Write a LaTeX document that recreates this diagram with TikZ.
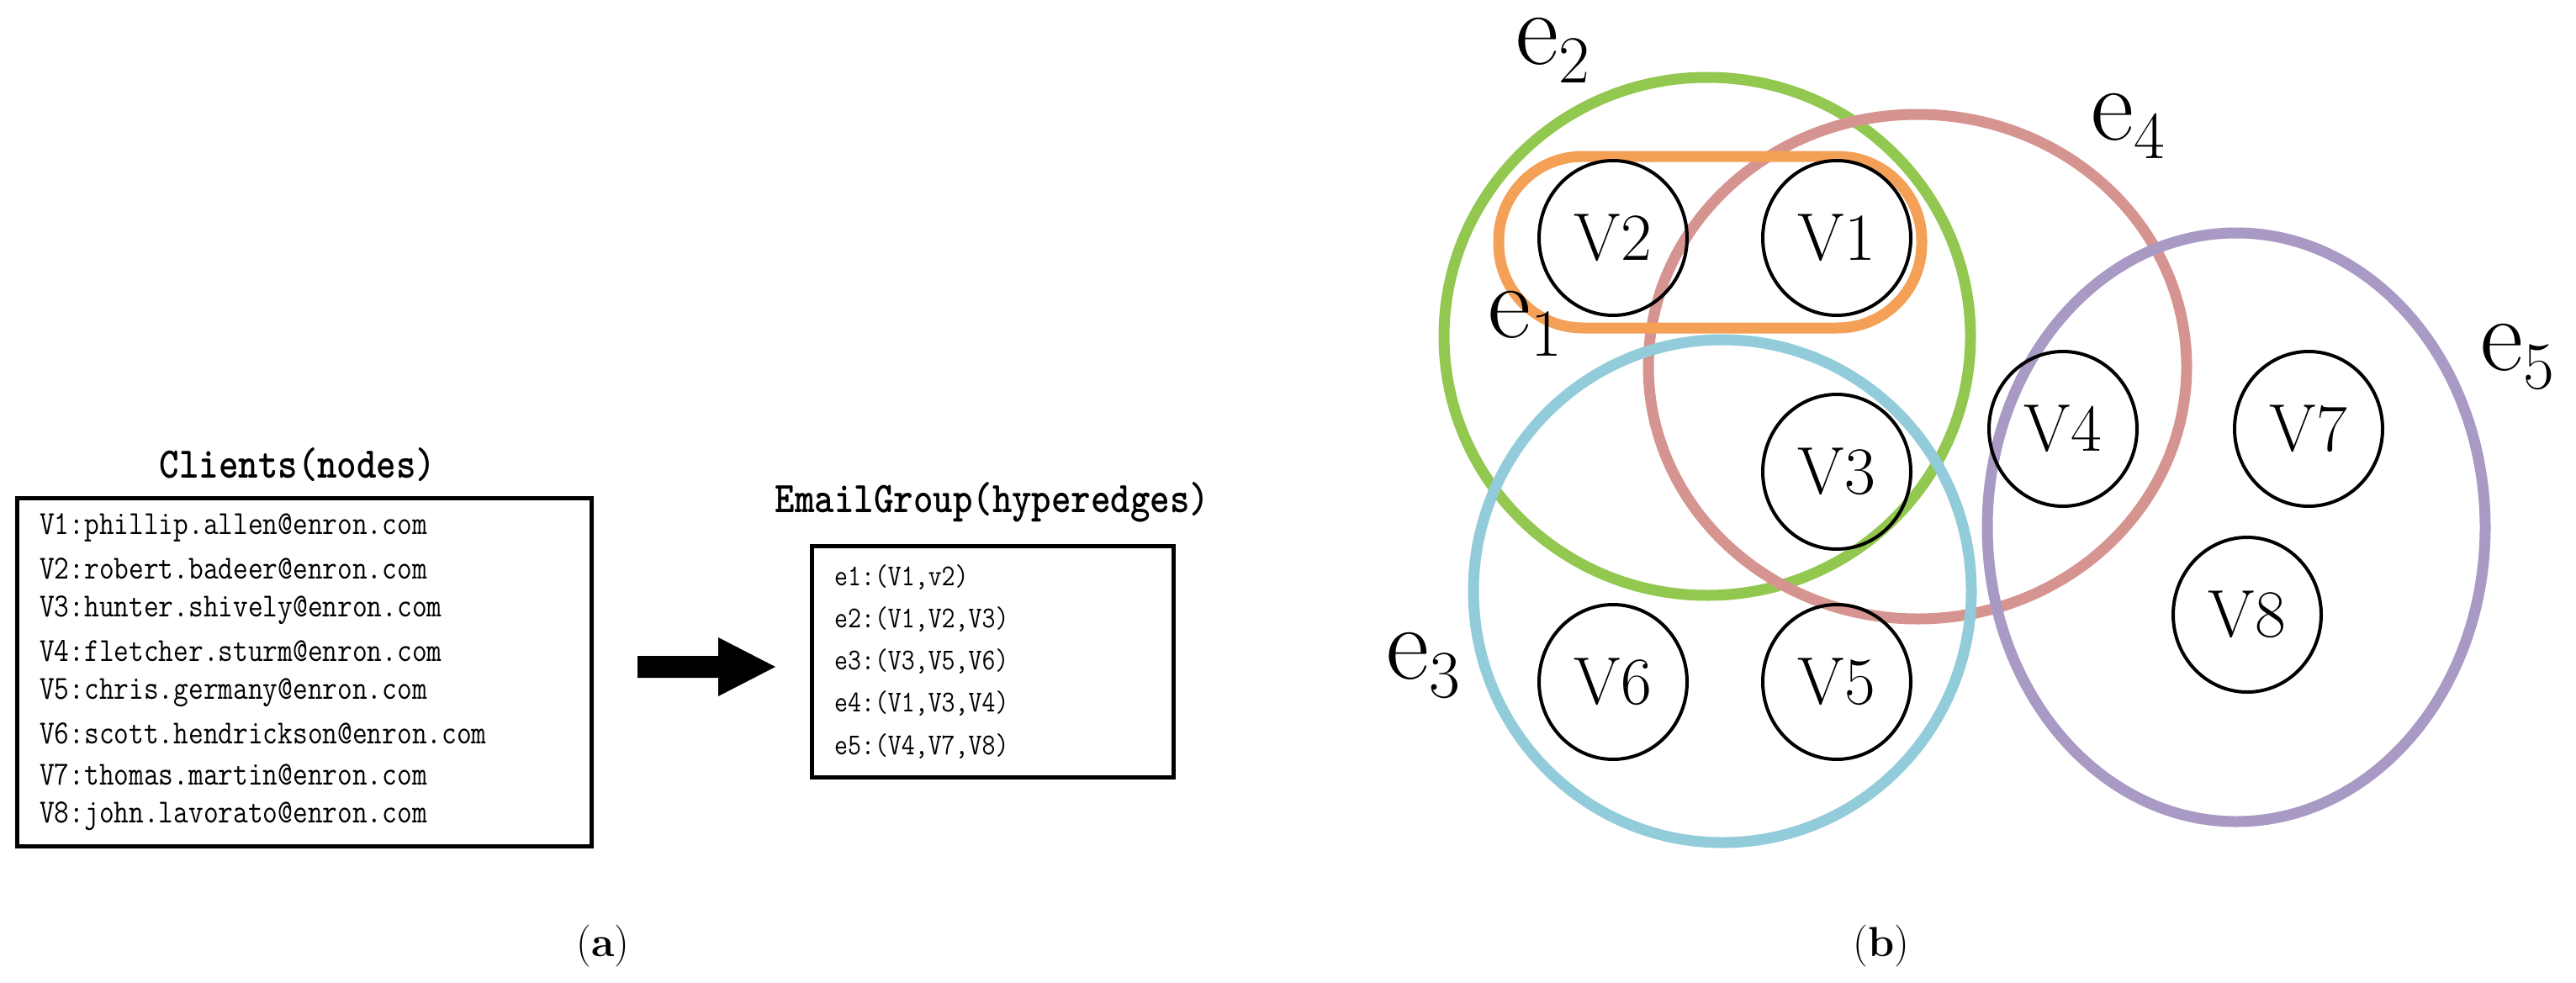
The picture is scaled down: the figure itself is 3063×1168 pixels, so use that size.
\documentclass[tikz,border=0pt]{standalone}
\usepackage{fontspec}
\newcommand{\esub}[1]{e\raisebox{-22pt}{\fontsize{80}{80}\selectfont #1}}
\tikzset{
  vnode/.style={draw=black,line width=4pt,ellipse,minimum width=176pt,minimum height=184pt,inner sep=0pt,font=\fontsize{80}{80}\selectfont},
  edge/.style={line width=13pt},
  elab/.style={font=\fontsize{125}{125}\selectfont,inner sep=0pt},
  listline/.style={anchor=west,inner sep=0pt,xscale=0.86,font=\ttfamily\fontsize{40}{40}\selectfont},
  eline/.style={anchor=west,inner sep=0pt,xscale=0.86,font=\ttfamily\fontsize{36}{36}\selectfont},
  boxst/.style={draw=black,line width=5pt},
  captext/.style={font=\fontsize{50}{50}\selectfont,inner sep=0pt}
}
\usetikzlibrary{shapes.geometric}
\definecolor{cgreen}{RGB}{146,200,80}
\definecolor{cpink}{RGB}{214,148,144}
\definecolor{cblue}{RGB}{146,204,218}
\definecolor{cpurple}{RGB}{168,154,196}
\definecolor{corange}{RGB}{244,160,86}
\begin{document}
\begin{tikzpicture}[x=1pt,y=-1pt]
\useasboundingbox[fill=white] (0,0) rectangle (3063,1168);
% left list
\node[xscale=0.86,font=\ttfamily\bfseries\fontsize{52}{52}\selectfont] (ct) at (354,553) {Clients(nodes)};
\draw[boxst] (20,592) rectangle (703,1006);
\foreach \t [count=\i] in {V1:phillip.allen@enron.com,V2:robert.badeer@enron.com,V3:hunter.shively@enron.com,V4:fletcher.sturm@enron.com,V5:chris.germany@enron.com,V6:scott.hendrickson@enron.com,V7:thomas.martin@enron.com,V8:john.lavorato@enron.com}
  \node[listline] (l\i) at (47,{627+49.1*(\i-1)}) {\t};
% arrow
\fill[black] (758,780) -- (854,780) -- (854,758) -- (922,793) -- (854,828) -- (854,806) -- (758,806) -- cycle;
% right list
\node[xscale=0.86,font=\ttfamily\bfseries\fontsize{52}{52}\selectfont] (gt) at (1180,597) {EmailGroup(hyperedges)};
\draw[boxst] (965,649) rectangle (1395,924);
\foreach \t [count=\i] in {{e1:(V1,v2)},{e2:(V1,V2,V3)},{e3:(V3,V5,V6)},{e4:(V1,V3,V4)},{e5:(V4,V7,V8)}}
  \node[eline] (r\i) at (992,{686+50.3*(\i-1)}) {\t};
% hypergraph
\draw[edge,cgreen] (2030,400) ellipse [x radius=313,y radius=308];
\draw[edge,cpink] (2280,436) ellipse [x radius=320,y radius=300];
\draw[edge,cblue] (2048,703) ellipse [x radius=296,y radius=299];
\draw[edge,cpurple] (2659,627) ellipse [x radius=296,y radius=350];
\draw[edge,corange,rounded corners=100pt] (1782,186) rectangle (2285,390);
\node[vnode] (V2) at (1918,283) {V2};
\node[vnode] (V1) at (2184,283) {V1};
\node[vnode] (V3) at (2184,561) {V3};
\node[vnode] (V4) at (2453,510) {V4};
\node[vnode] (V7) at (2745,510) {V7};
\node[vnode] (V8) at (2672,731) {V8};
\node[vnode] (V6) at (1918,811) {V6};
\node[vnode] (V5) at (2184,811) {V5};
\node[elab] (e2) at (1846,60) {\esub{2}};
\node[elab] (e4) at (2530,150) {\esub{4}};
\node[elab] (e1) at (1813,385) {\esub{1}};
\node[elab] (e5) at (2993,425) {\esub{5}};
\node[elab] (e3) at (1692,792) {\esub{3}};
\node[captext] (ca) at (717,1125) {(\textbf{a})};
\node[captext] (cb) at (2237,1125) {(\textbf{b})};
\end{tikzpicture}
\end{document}
